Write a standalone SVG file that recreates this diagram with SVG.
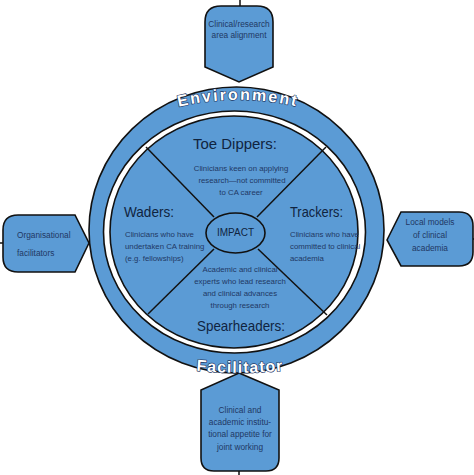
<svg xmlns="http://www.w3.org/2000/svg" width="474" height="475" viewBox="0 0 474 475">
<style>
.shape{fill:#5b9bd5;stroke:#111;stroke-width:1.6}
.ln{stroke:#111;stroke-width:1.5;fill:none}
.hd{font-family:"Liberation Sans",Arial,sans-serif;font-size:15px;fill:#10243f}
.sm{font-family:"Liberation Sans",Arial,sans-serif;font-size:7.8px;fill:#1f3864}
.bx{font-family:"Liberation Sans",Arial,sans-serif;font-size:8.3px;fill:#1f3864}
.wa{font-family:"Liberation Sans",Arial,sans-serif;font-size:16px;font-weight:bold;fill:#fff;stroke:#1f3864;stroke-width:1.3;paint-order:stroke;stroke-linejoin:round}
</style>
<defs>
<path id="envArc" d="M 166 110 A 260 260 0 0 1 310 110"/>
<path id="facArc" d="M 176 368.5 A 485 485 0 0 0 304 368.5"/>
</defs>
<g id="connectors">
<line class="ln" x1="240" y1="0" x2="240" y2="6"/>
<line class="ln" x1="239" y1="471" x2="239" y2="475"/>
<line class="ln" x1="0" y1="243" x2="3" y2="243"/>
<line class="ln" x1="473" y1="239" x2="474" y2="239"/>
</g>
<g id="node-top">
<path class="shape" d="M 205 67 L 205 22 Q 205 6 221 6 L 257 6 Q 273 6 273 22 L 273 67 L 239 82 Z"/>
<text class="bx" text-anchor="middle" x="239" y="27">Clinical/research</text>
<text class="bx" text-anchor="middle" x="239" y="38">area alignment</text>
</g>
<g id="node-left">
<path class="shape" d="M 89 243 L 75 272 L 18 272 Q 3 272 3 257 L 3 230 Q 3 215 18 215 L 75 215 Z"/>
<text class="bx" x="17" y="238">Organisational</text>
<text class="bx" x="17" y="256">facilitators</text>
</g>
<g id="node-right">
<path class="shape" d="M 387 240 L 401 212 L 459 212 Q 473 212 473 226 L 473 252 Q 473 266 459 266 L 401 266 Z"/>
<text class="bx" text-anchor="middle" x="430" y="225">Local models</text>
<text class="bx" text-anchor="middle" x="430" y="238">of clinical</text>
<text class="bx" text-anchor="middle" x="430" y="251">academia</text>
</g>
<g id="node-bottom">
<path class="shape" d="M 239 373 L 279 390 L 279 458 Q 279 471 266 471 L 214 471 Q 201 471 201 458 L 201 390 Z"/>
<text class="bx" text-anchor="middle" x="240" y="413">Clinical and</text>
<text class="bx" text-anchor="middle" x="240" y="425">academic institu-</text>
<text class="bx" text-anchor="middle" x="240" y="437">tional appetite for</text>
<text class="bx" text-anchor="middle" x="240" y="450">joint working</text>
</g>
<g id="node-circle">
<ellipse class="shape" cx="236.5" cy="230" rx="147.5" ry="143"/>
<ellipse cx="234.5" cy="232" rx="131" ry="121" fill="#fff" stroke="#111" stroke-width="1.6"/>
<ellipse class="shape" cx="234" cy="232" rx="124" ry="116"/>
<text class="wa" letter-spacing="2"><textPath href="#envArc" startOffset="50%" text-anchor="middle">Environment</textPath></text>
<text class="wa" letter-spacing="1"><textPath href="#facArc" startOffset="50%" text-anchor="middle">Facilitator</textPath></text>
</g>
<g id="dividers">
<line class="ln" x1="146" y1="147" x2="214" y2="217"/>
<line class="ln" x1="326" y1="147" x2="257" y2="217"/>
<line class="ln" x1="148" y1="314" x2="214" y2="249"/>
<line class="ln" x1="327" y1="315" x2="258" y2="249"/>
</g>
<g id="node-toe-dippers">
<text class="hd" text-anchor="middle" x="235" y="149" textLength="84" lengthAdjust="spacingAndGlyphs">Toe Dippers:</text>
<text class="sm" text-anchor="middle" x="241" y="171">Clinicians keen on applying</text>
<text class="sm" text-anchor="middle" x="242" y="183">research—not committed</text>
<text class="sm" text-anchor="middle" x="241" y="195">to CA career</text>
</g>
<g id="node-waders">
<text class="hd" x="124" y="217" textLength="50" lengthAdjust="spacingAndGlyphs">Waders:</text>
<text class="sm" x="125" y="237">Clinicians who have</text>
<text class="sm" x="125" y="249">undertaken CA training</text>
<text class="sm" x="125" y="261">(e.g. fellowships)</text>
</g>
<g id="node-trackers">
<text class="hd" x="290" y="217" textLength="53" lengthAdjust="spacingAndGlyphs">Trackers:</text>
<text class="sm" x="290" y="237">Clinicians who have</text>
<text class="sm" x="290" y="249">committed to clinical</text>
<text class="sm" x="290" y="261">academia</text>
</g>
<g id="node-spearheaders">
<text class="sm" text-anchor="middle" x="240" y="272">Academic and clinical</text>
<text class="sm" text-anchor="middle" x="240" y="284">experts who lead research</text>
<text class="sm" text-anchor="middle" x="240" y="296">and clinical advances</text>
<text class="sm" text-anchor="middle" x="240" y="308">through research</text>
<text class="hd" text-anchor="middle" x="241" y="331" textLength="88" lengthAdjust="spacingAndGlyphs">Spearheaders:</text>
</g>
<g id="node-impact">
<ellipse class="shape" cx="235.5" cy="233" rx="29.5" ry="20"/>
<text class="hd" text-anchor="middle" x="235.5" y="236" style="font-size:10px">IMPACT</text>
</g>
</svg>
